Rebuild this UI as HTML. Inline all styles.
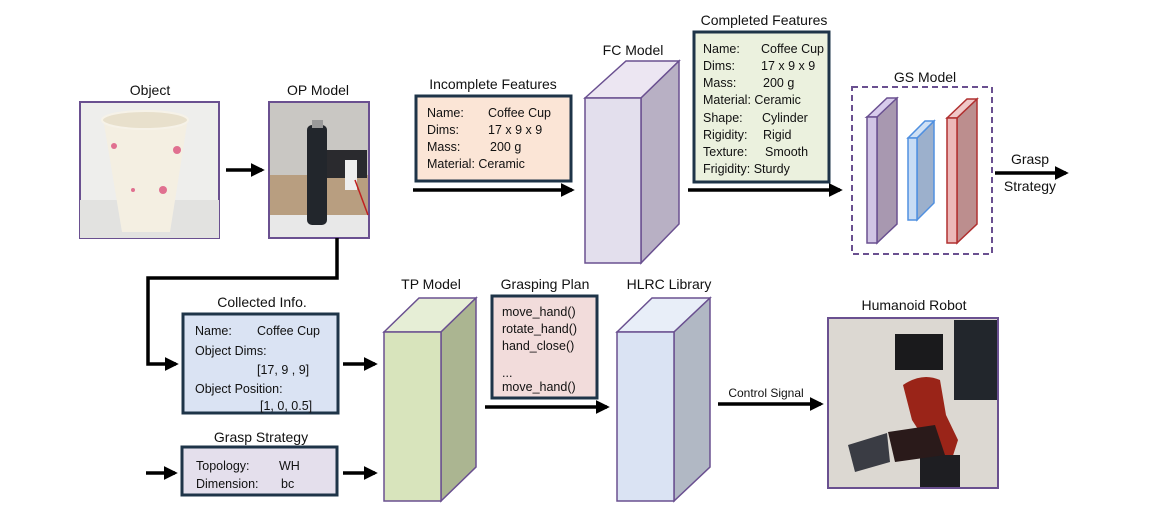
<!DOCTYPE html>
<html><head><meta charset="utf-8"><style>
html,body{margin:0;padding:0;background:#fff;width:1149px;height:515px;overflow:hidden}
svg{display:block}
text{font-family:"Liberation Sans",sans-serif;fill:#111}
.l{font-size:14px;text-anchor:middle}
.t{font-size:12.5px}
</style></head><body>
<svg width="1149" height="515" viewBox="0 0 1149 515" xmlns="http://www.w3.org/2000/svg">
<defs>
<marker id="a" markerWidth="4" markerHeight="4" refX="3.2" refY="2" orient="auto" markerUnits="strokeWidth">
<path d="M0,0 L4,2 L0,4 z" fill="#000"/></marker>
</defs>

<text class="l" x="150" y="95">Object</text>
<rect x="80" y="102" width="139" height="136" fill="#eeeeec" stroke="#6a5090" stroke-width="2"/>
<rect x="80" y="200" width="139" height="38" fill="#e2e2e0"/>
<path d="M103,118 L188,118 L170,232 L122,232 Z" fill="#f4efe2"/>
<ellipse cx="145" cy="120" rx="43" ry="9" fill="#e8e0cc" stroke="#f6f2e8" stroke-width="2"/>
<circle cx="114" cy="146" r="3" fill="#e07090"/><circle cx="177" cy="150" r="4" fill="#e07090"/>
<circle cx="163" cy="190" r="4" fill="#e07090"/><circle cx="133" cy="190" r="2" fill="#e07090"/>

<text class="l" x="318" y="95">OP Model</text>
<rect x="269" y="102" width="100" height="136" fill="#c9c7c3" stroke="#6a5090" stroke-width="2"/>
<rect x="270" y="175" width="98" height="40" fill="#b89e80"/>
<rect x="270" y="215" width="98" height="22" fill="#e8e8e8"/>
<rect x="307" y="125" width="20" height="100" rx="5" fill="#22262c"/>
<rect x="312" y="120" width="11" height="8" fill="#999"/>
<rect x="327" y="150" width="40" height="28" fill="#2a2a2e"/>
<rect x="345" y="160" width="12" height="30" fill="#eee"/>
<path d="M355,180 L368,215" stroke="#c02020" stroke-width="1.5"/>

<line x1="226" y1="170" x2="262" y2="170" stroke="#000" stroke-width="3.5" marker-end="url(#a)"/>

<text class="l" x="493" y="89">Incomplete Features</text>
<rect x="416" y="96" width="155" height="85" fill="#fbe5d6" stroke="#1e3448" stroke-width="3"/>
<g class="t"><text x="427" y="117">Name:</text><text x="488" y="117">Coffee Cup</text>
<text x="427" y="134">Dims:</text><text x="488" y="134">17 x 9 x 9</text>
<text x="427" y="151">Mass:</text><text x="490" y="151">200 g</text>
<text x="427" y="168">Material:  Ceramic</text></g>
<line x1="413" y1="190" x2="572" y2="190" stroke="#000" stroke-width="3.5" marker-end="url(#a)"/>

<text class="l" x="633" y="55">FC Model</text>
<polygon points="585,98 626,61 679,61 641,98" fill="#ece6f2" stroke="#6a5090" stroke-width="1.5"/>
<polygon points="641,98 679,61 679,224 641,263" fill="#b8b0c4" stroke="#6a5090" stroke-width="1.5"/>
<rect x="585" y="98" width="56" height="165" fill="#e3dfed" stroke="#6a5090" stroke-width="1.5"/>

<text class="l" x="764" y="25">Completed Features</text>
<rect x="694" y="32" width="135" height="150" fill="#ebf1de" stroke="#1e3448" stroke-width="3"/>
<g class="t"><text x="703" y="53">Name:</text><text x="761" y="53">Coffee Cup</text>
<text x="703" y="70">Dims:</text><text x="761" y="70">17 x 9 x 9</text>
<text x="703" y="87">Mass:</text><text x="763" y="87">200 g</text>
<text x="703" y="104">Material: Ceramic</text>
<text x="703" y="122">Shape:</text><text x="762" y="122">Cylinder</text>
<text x="703" y="139">Rigidity:</text><text x="763" y="139">Rigid</text>
<text x="703" y="156">Texture:</text><text x="765" y="156">Smooth</text>
<text x="703" y="173">Frigidity:  Sturdy</text></g>
<line x1="688" y1="190" x2="840" y2="190" stroke="#000" stroke-width="3.5" marker-end="url(#a)"/>

<text class="l" x="925" y="82">GS Model</text>
<rect x="852" y="87" width="140" height="167" fill="none" stroke="#6a5090" stroke-width="2" stroke-dasharray="6,4"/>
<polygon points="867,117 897,98 897,224 877,243 877,117" fill="#a898b0" stroke="#6a5090" stroke-width="1.5"/>
<polygon points="867,117 887,98 897,98 877,117" fill="#d8ccec" stroke="#6a5090" stroke-width="1.5"/>
<rect x="867" y="117" width="10" height="126" fill="#d0c4e4" stroke="#6a5090" stroke-width="1.5"/>
<polygon points="917,138 934,121 934,203 917,220" fill="#9cb0cc" stroke="#5090e0" stroke-width="1.5"/>
<polygon points="908,138 925,121 934,121 917,138" fill="#cfe0f4" stroke="#5090e0" stroke-width="1.5"/>
<rect x="908" y="138" width="9" height="82" fill="#c8dcf4" stroke="#5090e0" stroke-width="1.5"/>
<polygon points="957,118 977,99 977,224 957,243" fill="#bc8e8e" stroke="#b03030" stroke-width="1.5"/>
<polygon points="947,118 967,99 977,99 957,118" fill="#f0c8c8" stroke="#b03030" stroke-width="1.5"/>
<rect x="947" y="118" width="10" height="125" fill="#ecb8b8" stroke="#b03030" stroke-width="1.5"/>
<line x1="995" y1="173" x2="1066" y2="173" stroke="#000" stroke-width="3.5" marker-end="url(#a)"/>
<text class="l" x="1030" y="164">Grasp</text>
<text class="l" x="1030" y="191">Strategy</text>

<polyline points="337,238 337,278 148,278 148,364 176,364" fill="none" stroke="#000" stroke-width="3.5" marker-end="url(#a)"/>

<text class="l" x="262" y="307">Collected Info.</text>
<rect x="183" y="314" width="155" height="99" fill="#dae3f3" stroke="#1e3448" stroke-width="3"/>
<g class="t"><text x="195" y="335">Name:</text><text x="257" y="335">Coffee Cup</text>
<text x="195" y="355">Object Dims:</text>
<text x="257" y="374">[17, 9 , 9]</text>
<text x="195" y="393">Object Position:</text>
<text x="260" y="410">[1, 0, 0.5]</text></g>
<line x1="343" y1="364" x2="375" y2="364" stroke="#000" stroke-width="3.5" marker-end="url(#a)"/>

<text class="l" x="261" y="442">Grasp Strategy</text>
<rect x="182" y="447" width="155" height="48" fill="#e4dfec" stroke="#1e3448" stroke-width="3"/>
<g class="t"><text x="196" y="470">Topology:</text><text x="279" y="470">WH</text>
<text x="196" y="488">Dimension:</text><text x="281" y="488">bc</text></g>
<line x1="146" y1="473" x2="175" y2="473" stroke="#000" stroke-width="3.5" marker-end="url(#a)"/>
<line x1="343" y1="473" x2="375" y2="473" stroke="#000" stroke-width="3.5" marker-end="url(#a)"/>

<text class="l" x="431" y="289">TP Model</text>
<polygon points="384,332 419,298 476,298 441,332" fill="#e6eed6" stroke="#6a5090" stroke-width="1.5"/>
<polygon points="441,332 476,298 476,467 441,501" fill="#abb591" stroke="#6a5090" stroke-width="1.5"/>
<rect x="384" y="332" width="57" height="169" fill="#d8e4bc" stroke="#6a5090" stroke-width="1.5"/>

<text class="l" x="545" y="289">Grasping Plan</text>
<rect x="492" y="296" width="105" height="102" fill="#f2dcdb" stroke="#1e3448" stroke-width="3"/>
<g class="t"><text x="502" y="316">move_hand()</text>
<text x="502" y="333">rotate_hand()</text>
<text x="502" y="350">hand_close()</text>
<text x="502" y="377">...</text>
<text x="502" y="391">move_hand()</text></g>
<line x1="485" y1="407" x2="607" y2="407" stroke="#000" stroke-width="3.5" marker-end="url(#a)"/>

<text class="l" x="669" y="289">HLRC Library</text>
<polygon points="617,332 652,298 710,298 674,332" fill="#e8eef8" stroke="#6a5090" stroke-width="1.5"/>
<polygon points="674,332 710,298 710,467 674,501" fill="#b1b8c4" stroke="#6a5090" stroke-width="1.5"/>
<rect x="617" y="332" width="57" height="169" fill="#dae3f3" stroke="#6a5090" stroke-width="1.5"/>

<line x1="718" y1="404" x2="821" y2="404" stroke="#000" stroke-width="3.5" marker-end="url(#a)"/>
<text x="766" y="397" style="font-size:12px;text-anchor:middle">Control Signal</text>

<text class="l" x="914" y="310">Humanoid Robot</text>
<rect x="828" y="318" width="170" height="170" fill="#dcd8d2" stroke="#6a5090" stroke-width="2"/>
<rect x="954" y="320" width="43" height="80" fill="#22262c"/>
<rect x="895" y="334" width="48" height="36" fill="#1a1a1c"/>
<path d="M903,385 Q922,372 940,380 L946,415 L958,440 L950,465 L935,468 L925,440 L912,420 Z" fill="#9a2418"/>
<rect x="920" y="455" width="40" height="32" fill="#1e1e22"/>
<path d="M888,432 L935,425 L945,455 L895,462 Z" fill="#2a1a1a"/>
<path d="M848,445 L887,433 L890,462 L855,472 Z" fill="#3a3c44"/>
</svg>
</body></html>
